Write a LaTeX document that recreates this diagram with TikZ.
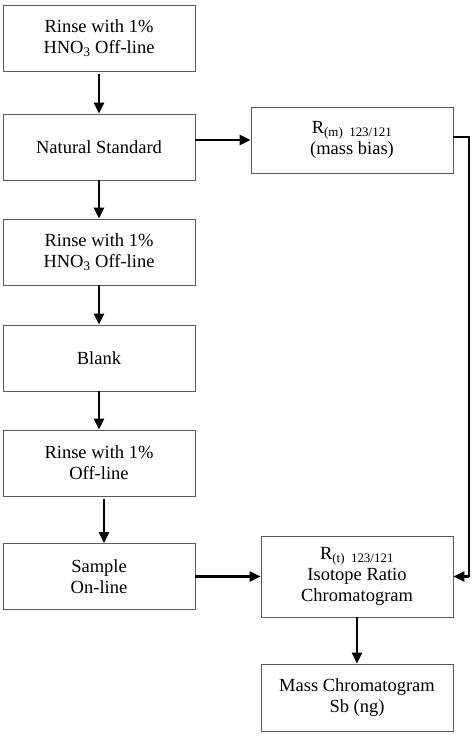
\documentclass[tikz,border=0pt]{standalone}
\usepackage{fontspec}
\setmainfont{Liberation Serif}
\usetikzlibrary{arrows.meta}
\begin{document}
\begin{tikzpicture}[x=1pt,y=1pt,
  box/.style={draw=black!65,line width=0.9pt,fill=white,align=center,
    font=\fontsize{18.5}{21}\selectfont,inner sep=0pt,minimum height=66pt},
  lbox/.style={box,minimum width=192pt},
  arr/.style={line width=2.3pt,-{Triangle[length=11pt,width=10pt]}},
  lnk/.style={line width=2.3pt}]
\useasboundingbox (0,0) rectangle (474,-739);
\node[lbox] (r1) at (99,-38) {Rinse with 1\%\\HNO\textsubscript{3} Off-line};
\node[lbox] (ns) at (99,-147) {Natural Standard};
\node[lbox] (r2) at (99,-252) {Rinse with 1\%\\HNO\textsubscript{3} Off-line};
\node[lbox] (bl) at (99,-358) {Blank};
\node[lbox] (r3) at (99,-463) {Rinse with 1\%\\Off-line};
\node[lbox] (sa) at (99,-576.5) {Sample\\On-line};
\node[box,minimum width=202pt] (rm) at (352,-140) {R\textsubscript{(m)\ \ 123/121}\\(mass bias)};
\node[box,minimum width=192pt,minimum height=81pt] (it) at (357,-576.5) {R\textsubscript{(t)\ \ 123/121}\\Isotope Ratio\\Chromatogram};
\node[box,minimum width=192pt,minimum height=67pt] (mc) at (357,-697.5) {Mass Chromatogram\\Sb (ng)};
\coordinate (c1) at (469,-137);
\coordinate (c2) at (469,-576.5);
\draw[arr,shorten <=3pt] (r1) -- (ns);
\draw[arr] (ns) -- (r2);
\draw[arr] (r2) -- (bl);
\draw[arr] (bl) -- (r3);
\draw[arr,shorten <=3pt] ([xshift=5pt]r3.south) -- ([xshift=5pt]sa.north);
\draw[arr] (ns.east |- 0,-140) -- (rm.west);
\draw[arr] (sa.east) -- (it.west);
\draw[arr] (it) -- (mc);
\draw[lnk] (rm.east |- c1) -- (c1) -- (c2);
\draw[arr] (c2) -- (it.east);
\end{tikzpicture}
\end{document}
